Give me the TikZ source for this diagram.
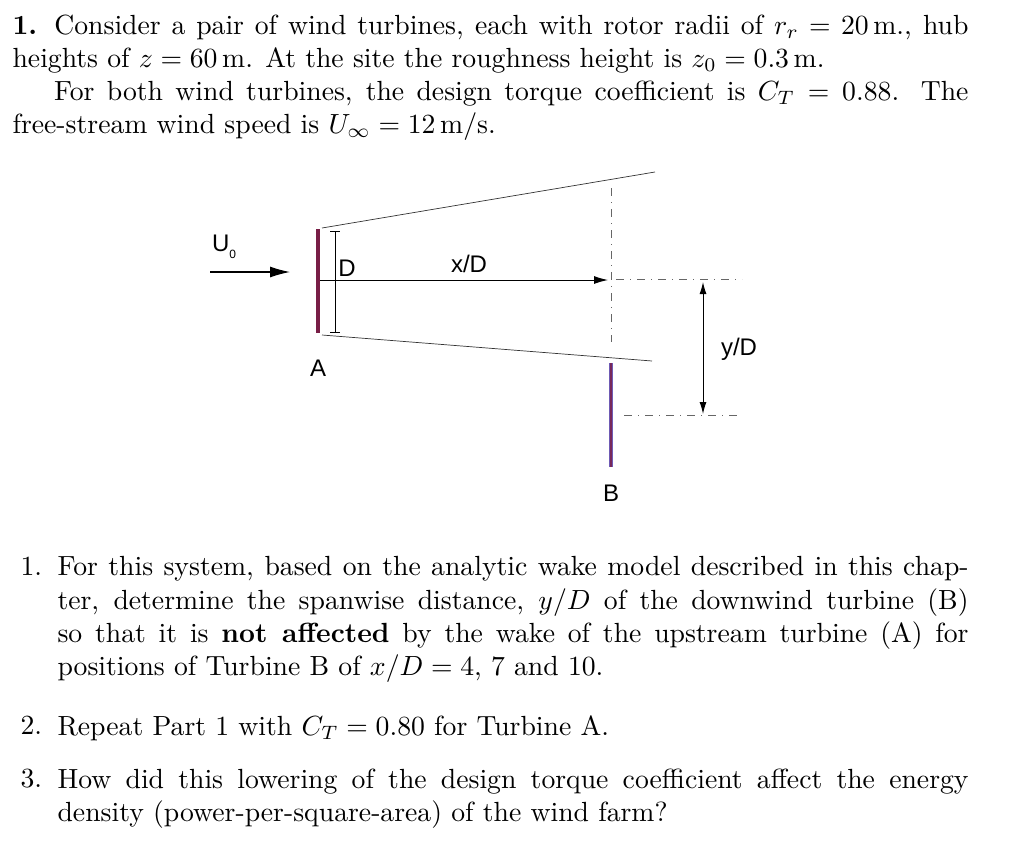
\documentclass[tikz,border=0pt]{standalone}
\usepackage{fontspec}
\newfontfamily\arial{Liberation Sans}
\usetikzlibrary{arrows.meta}
\definecolor{turbA}{RGB}{120,30,70}
\definecolor{turbBo}{RGB}{110,90,180}
\definecolor{turbBi}{RGB}{120,40,90}
\tikzset{
  para/.style={anchor=north west,inner sep=0pt,scale=2.77,transform shape,text width=#1,align=justify,font=\fontsize{10}{12}\selectfont},
  lab/.style={font=\arial\fontsize{24}{28}\selectfont,inner sep=0pt},
  wake/.style={draw=black!80,line width=0.7pt},
  guide/.style={draw=black!60,line width=0.8pt,dash pattern=on 8pt off 6pt on 1pt off 6pt},
}
\begin{document}
\begin{tikzpicture}[x=1pt,y=-1pt]
\useasboundingbox (0,0) rectangle (1024,857);
\node[para=345.1pt] (p1) at (12,14) {\textbf{1.} Consider a pair of wind turbines, each with rotor radii of $r_r=20\,\mathrm{m}$., hub heights of $z=60\,\mathrm{m}$. At the site the roughness height is $z_0=0.3\,\mathrm{m}$.\par
\hspace*{15pt}For both wind turbines, the design torque coefficient is $C_T=0.88$. The free-stream wind speed is $U_\infty=12\,\mathrm{m/s}$.};
\node[para=328.9pt] (i1) at (57,556) {For this system, based on the analytic wake model described in this chap-\linebreak ter, determine the spanwise distance, $y/D$ of the downwind turbine (B)\linebreak so that it is \textbf{not affected} by the wake of the upstream turbine (A) for\linebreak positions of Turbine B of $x/D=4$, 7 and 10.};
\node[para=328.9pt] (i2) at (57,715) {Repeat Part 1 with $C_T=0.80$ for Turbine A.};
\node[para=328.9pt] (i3) at (57,768) {How did this lowering of the design torque coefficient affect the energy\linebreak density (power-per-square-area) of the wind farm?};
\node[para=14pt,align=left] (n1) at (20,556) {1.};
\node[para=14pt,align=left] (n2) at (20,715) {2.};
\node[para=14pt,align=left] (n3) at (20,768) {3.};
\coordinate (At) at (318,229); \coordinate (Ab) at (318,333);
\coordinate (Bt) at (611,363); \coordinate (Bb) at (611,467);
\coordinate (wt0) at (322,228); \coordinate (wt1) at (655,172);
\coordinate (wb0) at (322,335); \coordinate (wb1) at (652,361);
\coordinate (hub) at (320,280); \coordinate (xe) at (608,280);
\coordinate (u0) at (210,272); \coordinate (u1) at (290,272);
\coordinate (vt) at (611,188); \coordinate (vb) at (611,342);
\coordinate (h1a) at (616,279); \coordinate (h1b) at (742,279);
\coordinate (h2a) at (624,415); \coordinate (h2b) at (742,415);
\coordinate (yt) at (703,282); \coordinate (yb) at (703,414);
\coordinate (dt) at (335,231); \coordinate (db) at (335,332);
\draw[wake] (wt0) -- (wt1);
\draw[wake] (wb0) -- (wb1);
\draw[guide] (vt) -- (vb);
\draw[guide] (h1a) -- (h1b);
\draw[guide] (h2a) -- (h2b);
\draw[line width=0.6pt] (dt) -- (db);
\draw[line width=0.6pt] ([xshift=-5pt]dt) -- ([xshift=5pt]dt);
\draw[line width=0.6pt] ([xshift=-5pt]db) -- ([xshift=5pt]db);
\draw[line width=1pt,-{Latex[length=14pt,width=8pt]}] (hub) -- (xe);
\draw[line width=1.2pt,-{Latex[length=20pt,width=11pt]}] (u0) -- (u1);
\draw[line width=1pt,{Latex[length=12pt,width=7pt]}-{Latex[length=12pt,width=7pt]}] (yt) -- (yb);
\draw[line width=3.5pt,turbA] (At) -- (Ab);
\draw[line width=4pt,turbBo] (Bt) -- (Bb);
\draw[line width=2pt,turbBi] (Bt) -- (Bb);
\node[lab] (lU) at (224,247) {U\raisebox{-7pt}{\fontsize{12}{12}\selectfont 0}};
\node[lab] (lD) at (347,268) {D};
\node[lab] (lx) at (469,264) {x/D};
\node[lab] (lA) at (318,368) {A};
\node[lab] (lB) at (611,493) {B};
\node[lab] (ly) at (739,349) {y/D};
\end{tikzpicture}
\end{document}
